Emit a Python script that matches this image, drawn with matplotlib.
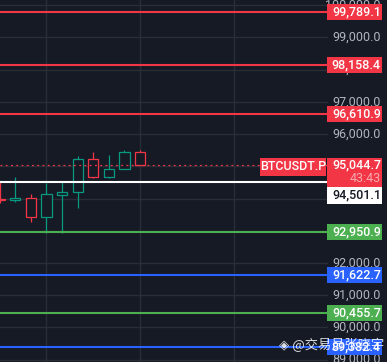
import matplotlib.pyplot as plt
from matplotlib.patches import Rectangle
from matplotlib.transforms import blended_transform_factory

# candles, oldest first (hollow style)
opens = [93990, 93944, 94006, 93435, 94118, 94192, 95217, 94677, 94906, 95434]
highs = [94545, 94667, 94140, 94472, 94522, 95319, 95443, 95350, 95505, 95505]
lows = [93850, 93900, 93280, 92945, 92945, 93714, 94646, 94646, 94906, 95044.7]
closes = [93965, 94006, 93435, 94140, 94202, 95217, 94677, 94906, 95434, 95044.7]

# horizontal levels drawn on the chart
levels = [99789.1, 98158.4, 96610.9, 94501.1, 92950.9, 91622.7, 90455.7, 89382.4]
level_colors = ['#f23645', '#f23645', '#f23645', '#ffffff',
                '#4caf50', '#2962ff', '#4caf50', '#2962ff']

last_price = 95044.7
symbol = 'BTCUSDT.P'
countdown = '43:43'
grid_ticks = list(range(89000, 100001, 1000))
# scale labels not hidden behind the level boxes
ticks = [89000, 90000, 91000, 92000, 96000, 97000, 98000, 99000, 100000]
watermark = '◈ @交易员张晓宇'

bg = '#161a25'
grid = '#2a2e39'
up = '#089981'
down = '#f23645'

W, H = 387, 362
fig = plt.figure(figsize=(W / 100, H / 100), dpi=100, facecolor=bg)
ax = fig.add_axes([0, 0, 1, 1])
ax.set_facecolor(bg)
ax.set_xlim(0.02, 24.83)
ax.set_ylim(88926, 100161.5)
ax.axis('off')

edge = 327 / W          # where the price scale starts
dpp = (100161.5 - 88926) / H   # price per pixel
tr = blended_transform_factory(ax.transAxes, ax.transData)
font = 'Roboto'

# grid
for t in grid_ticks:
    ax.axhline(t, xmax=edge, color=grid, lw=1, zorder=1)
for x in [3, 9, 15]:
    ax.axvline(x, color=grid, lw=1, zorder=1)

# candles
for i in range(len(opens)):
    o, h, l, c = opens[i], highs[i], lows[i], closes[i]
    col = up if c >= o else down
    ax.vlines(i, l, h, color=col, lw=0.9, zorder=2)
    bot = min(o, c)
    ht = max(abs(c - o), 1.0 * dpp)
    ax.add_patch(Rectangle((i - 0.33, bot), 0.66, ht, facecolor=bg,
                           edgecolor=col, lw=0.9, zorder=3))

# levels
for lv, col in zip(levels, level_colors):
    ax.axhline(lv, xmax=edge, color=col, lw=1.5, zorder=4)
ax.axhline(last_price, xmax=edge, color=down, lw=0.9,
           ls=(0, (1.5, 2.7)), zorder=4)

# price scale tick labels
for t in ticks:
    ax.text(381 / W, t, f'{t:,.1f}', transform=tr, ha='right',
            va='center', color='#b2b5be', fontsize=9, family=font, zorder=5)


def box(price, text, fc, tc, dy=0, h=16):
    cy = price - dy * dpp
    ax.add_patch(Rectangle((edge, cy - h / 2 * dpp), 55 / W, h * dpp,
                           transform=tr, facecolor=fc, lw=0, zorder=6,
                           clip_on=False))
    ax.text(381 / W, cy, text, transform=tr, ha='right', va='center',
            color=tc, fontsize=9, family=font, weight='medium', zorder=7)


for lv, col in zip(levels, level_colors):
    if col == '#ffffff':
        box(lv, f'{lv:,.1f}', col, '#131722', dy=13, h=18)
    else:
        box(lv, f'{lv:,.1f}', col, '#ffffff')

# last price box with countdown
top = last_price + 7 * dpp
ax.add_patch(Rectangle((edge, top - 29 * dpp), 55 / W, 29 * dpp, transform=tr,
                       facecolor=down, lw=0, zorder=8))
ax.text(381 / W, last_price, f'{last_price:,.1f}', transform=tr, ha='right',
        va='center', color='white', fontsize=9, family=font,
        weight='medium', zorder=9)
ax.text(381 / W, last_price - 14 * dpp, countdown, transform=tr, ha='right',
        va='center', color='#f9a8af', fontsize=9, family=font, zorder=9)

# symbol tag
ax.add_patch(Rectangle((260 / W, top - 18 * dpp), 66 / W, 18 * dpp,
                       transform=tr, facecolor=down, lw=0, zorder=8))
ax.text(293 / W, top - 9 * dpp, symbol, transform=tr, ha='center',
        va='center', color='white', fontsize=9, family=font,
        weight='medium', zorder=9)

fig.text(279 / W, 1 - 345 / H, watermark, ha='left', va='center',
         color='white', alpha=0.85, fontsize=9.5,
         family=['Noto Sans CJK SC', 'DejaVu Sans'], zorder=10)

fig.savefig('out.png', dpi=100, facecolor=bg)
